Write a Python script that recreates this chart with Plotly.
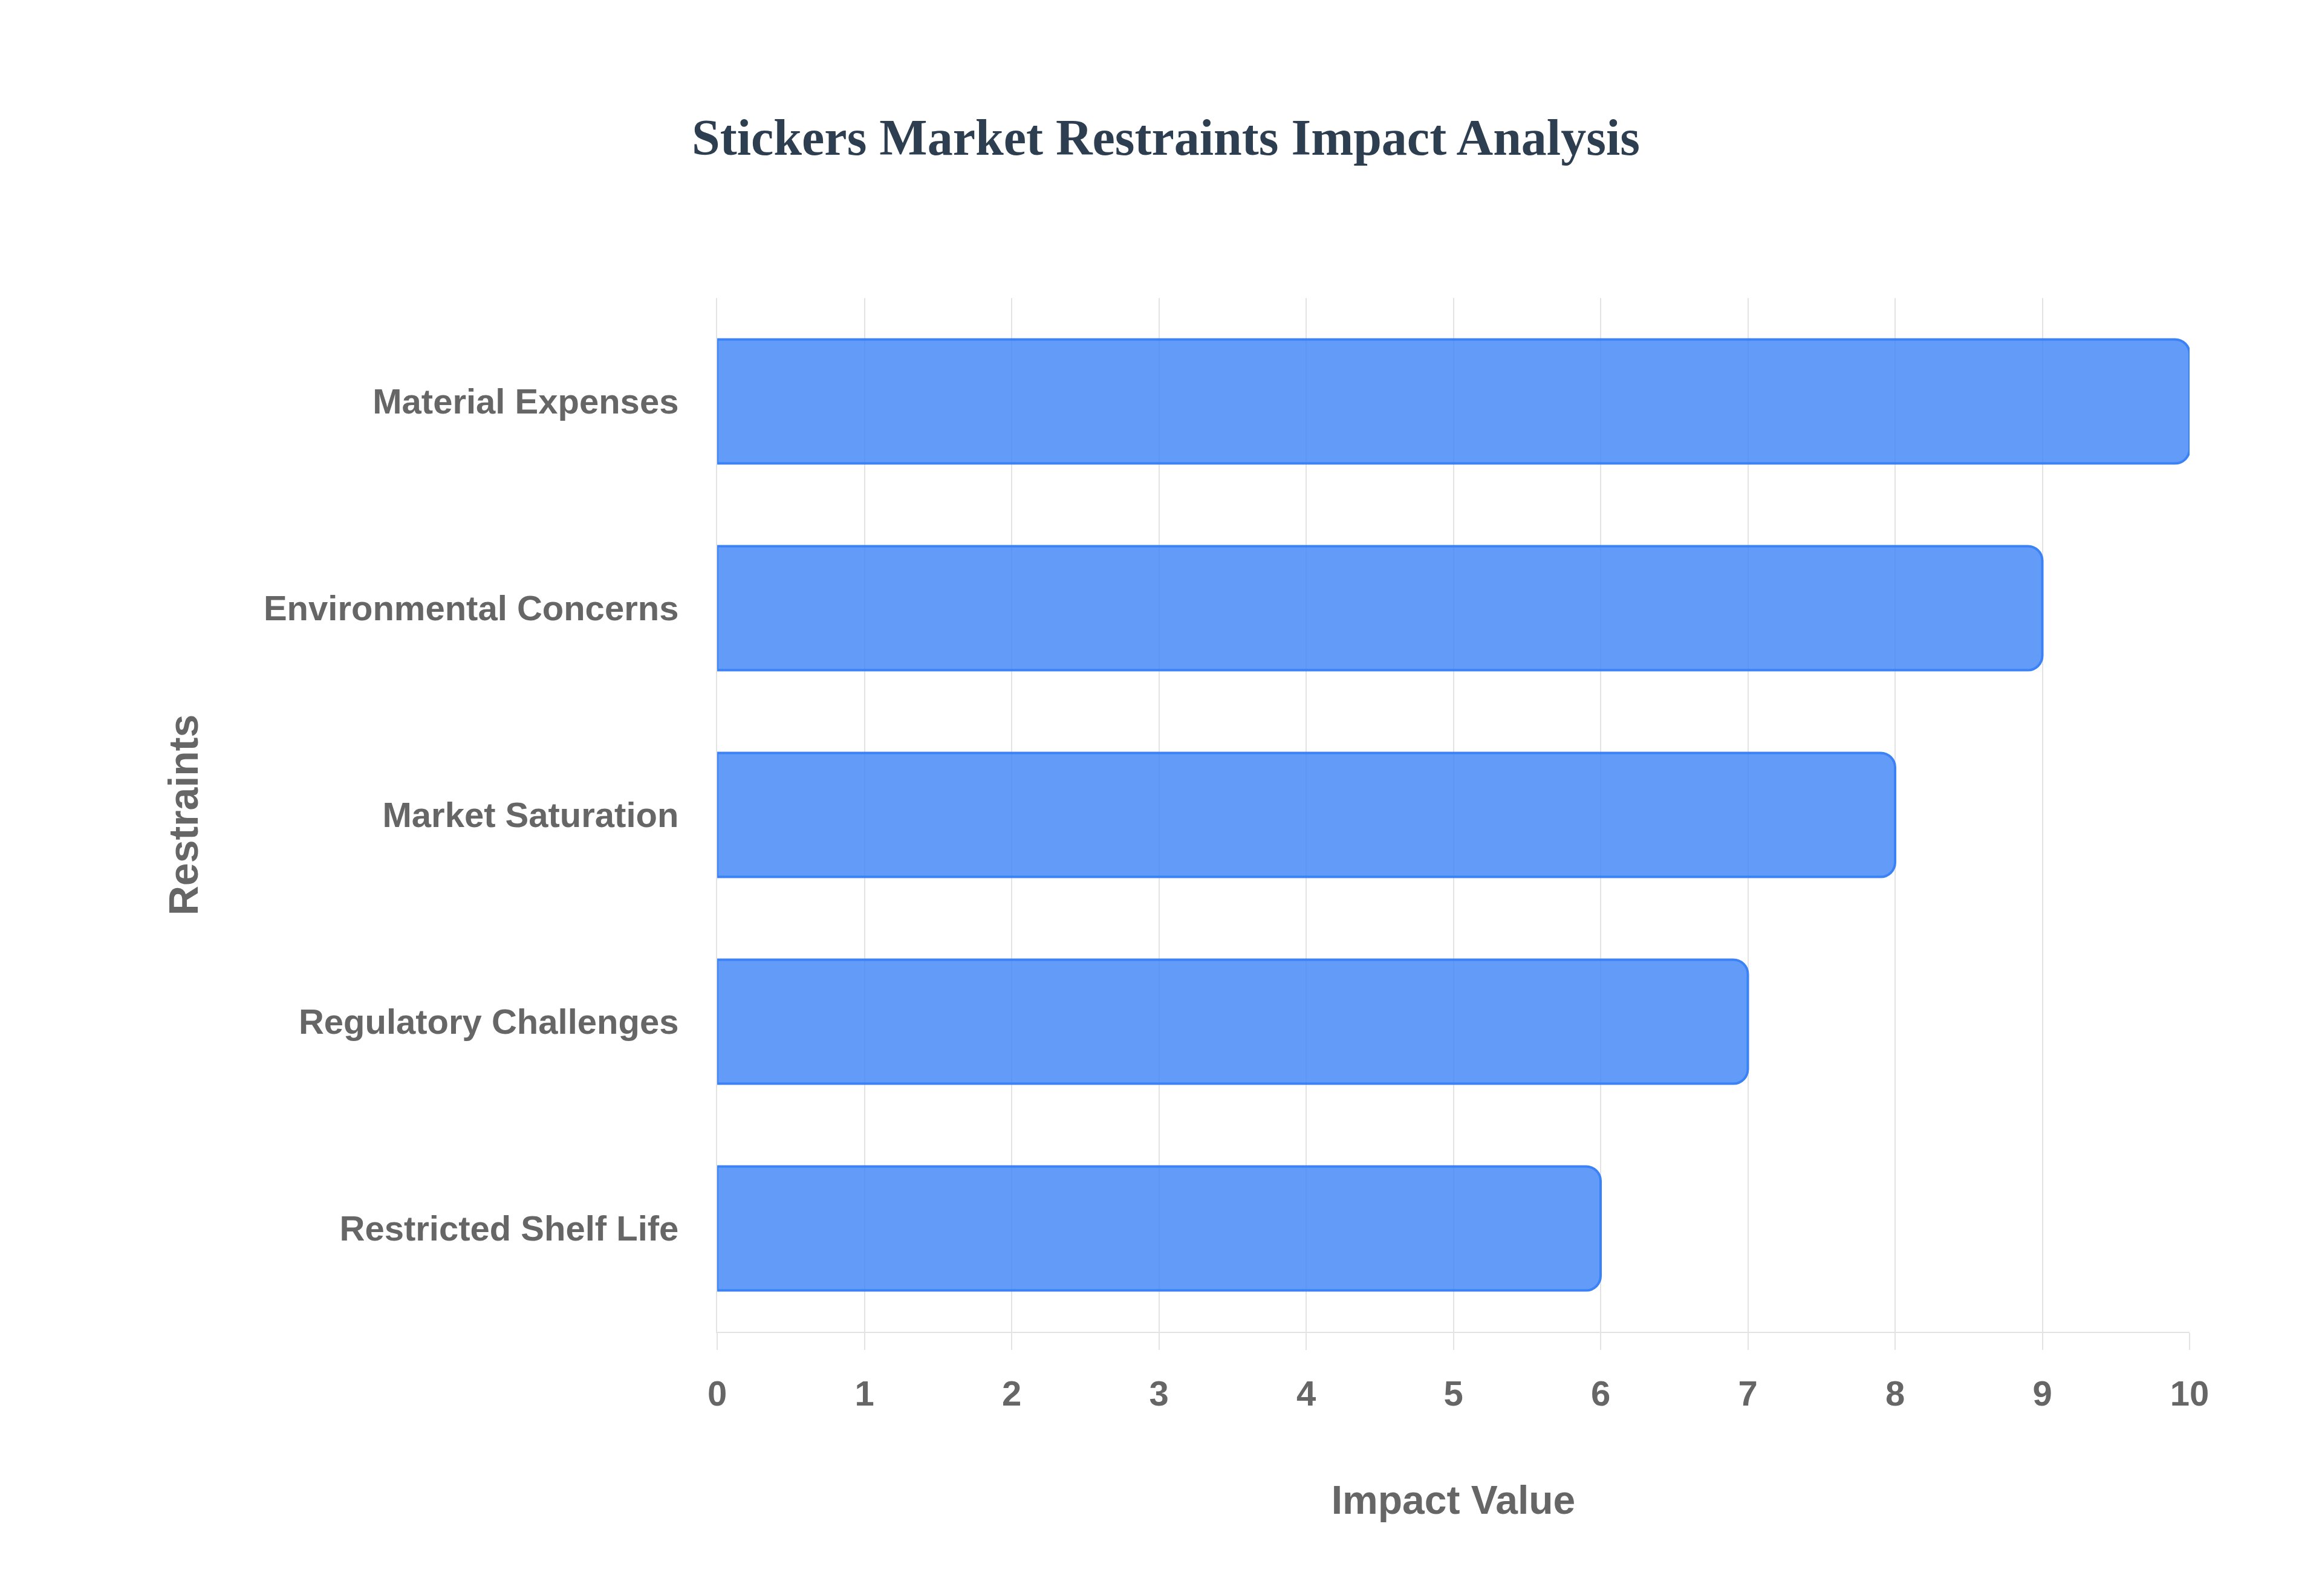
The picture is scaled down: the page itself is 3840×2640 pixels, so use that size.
import plotly.graph_objects as go

# Data
restraints = [
    "Material Expenses",
    "Environmental Concerns",
    "Market Saturation",
    "Regulatory Challenges",
    "Restricted Shelf Life",
]
impact_values = [10, 9, 8, 7, 6]
x_ticks = list(range(0, 11))

TITLE = "Stickers Market Restraints Impact Analysis"
X_TITLE = "Impact Value"
Y_TITLE = "Restraints"

label_font = dict(family="Liberation Sans, Arial, sans-serif", size=58, color="#666666")
grid_color = "#e3e3e3"

fig = go.Figure()

fig.add_trace(
    go.Bar(
        x=impact_values,
        y=restraints,
        orientation="h",
        width=0.6,
        marker=dict(
            color="rgba(59,130,246,0.8)",
            line=dict(color="#3b82f6", width=4),
        ),
        hovertemplate="%{y}: %{x}<extra></extra>",
    )
)

fig.update_layout(
    width=3840,
    height=2640,
    paper_bgcolor="white",
    plot_bgcolor="white",
    showlegend=False,
    barcornerradius=24,
    margin=dict(l=1178, r=227, t=485, b=445),
    title=dict(
        text="<b>" + TITLE + "</b>",
        x=0.5,
        xref="container",
        xanchor="center",
        y=1 - 219 / 2640,
        yref="container",
        yanchor="middle",
        font=dict(family="Liberation Serif, Times New Roman, serif", size=84, color="#2c3e50"),
    ),
)

fig.update_xaxes(
    range=[0, 10],
    tickvals=x_ticks,
    ticktext=["<b>%d</b>" % t for t in x_ticks],
    tickfont=label_font,
    showgrid=True,
    gridcolor=grid_color,
    gridwidth=2,
    zeroline=False,
    showline=True,
    linecolor=grid_color,
    linewidth=2,
    ticks="outside",
    ticklen=28,
    tickwidth=2,
    tickcolor=grid_color,
    ticklabelstandoff=22,
    title=dict(
        text="<b>" + X_TITLE + "</b>",
        font=dict(family="Liberation Sans, Arial, sans-serif", size=66, color="#666666"),
        standoff=122,
    ),
)

fig.update_yaxes(
    categoryorder="array",
    categoryarray=restraints[::-1],
    tickvals=restraints,
    ticktext=["<b>" + r + "</b>" for r in restraints],
    tickfont=label_font,
    showgrid=False,
    zeroline=False,
    showline=True,
    linecolor=grid_color,
    linewidth=2,
    ticks="",
    ticklabelstandoff=50,
    title=dict(
        text="<b>" + Y_TITLE + "</b>",
        font=dict(family="Liberation Sans, Arial, sans-serif", size=68, color="#666666"),
        standoff=86,
    ),
)

fig.write_html("out.html")
